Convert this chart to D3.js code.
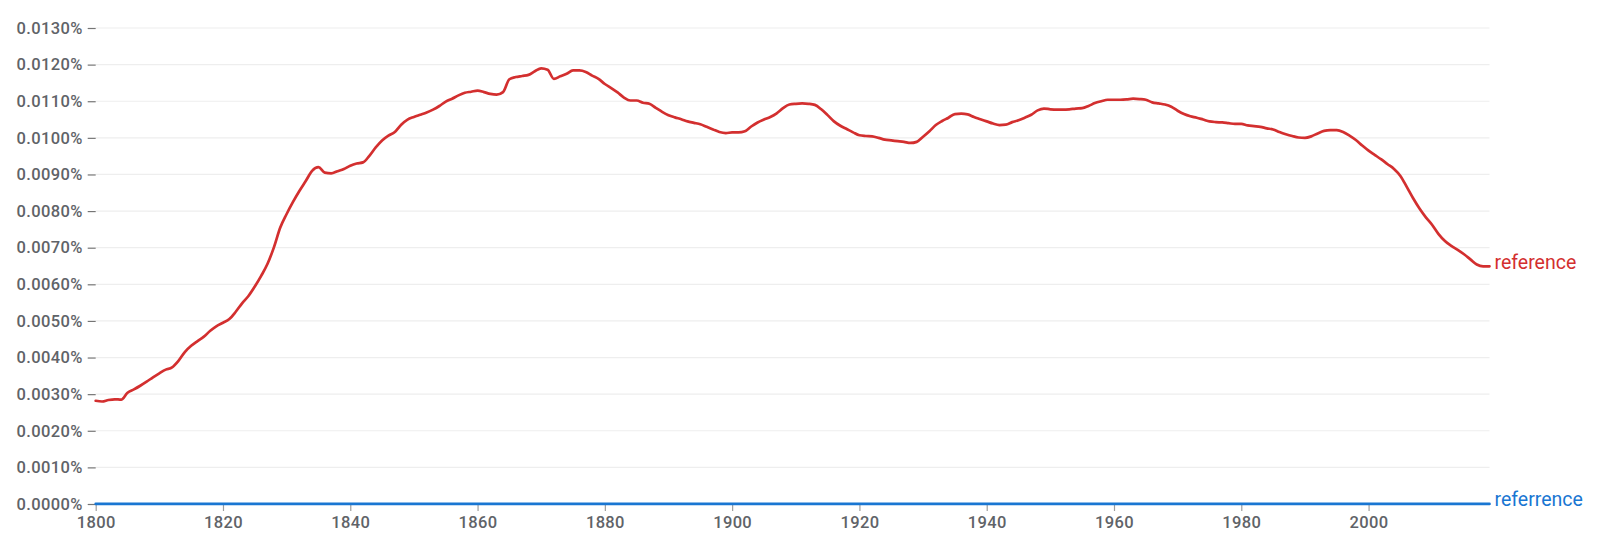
<!DOCTYPE html>
<html>
<head>
<meta charset="utf-8">
<script src="https://cdn.jsdelivr.net/npm/d3@7"></script>
<style>
  html, body { margin: 0; padding: 0; background: #ffffff; }
  svg { display: block; }
</style>
</head>
<body>
<svg id="chart" width="1600" height="544"></svg>
<script>
// ---- data -------------------------------------------------------------
const firstYear = 1800;
const lastYear = 2019;
const seriesNames = ["reference", "referrence"];
const yTicks = [0, 0.001, 0.002, 0.003, 0.004, 0.005, 0.006, 0.007, 0.008, 0.009, 0.010, 0.011, 0.012, 0.013];
const xTicks = [1800, 1820, 1840, 1860, 1880, 1900, 1920, 1940, 1960, 1980, 2000];

// percent values, 1800..2019
const referenceValues = [
  0.00282, 0.00280, 0.00284, 0.00286, 0.00285, 0.00304, 0.00313, 0.00323, 0.00334, 0.00346,
  0.00357, 0.00367, 0.00373, 0.00391, 0.00415, 0.00432, 0.00445, 0.00457, 0.00473, 0.00486,
  0.00495, 0.00505, 0.00525, 0.00548, 0.00568, 0.00594, 0.00623, 0.00656, 0.00701, 0.00755,
  0.00792, 0.00825, 0.00855, 0.00882, 0.00910, 0.00920, 0.00905, 0.00903, 0.00909, 0.00915,
  0.00924, 0.00930, 0.00933, 0.00951, 0.00974, 0.00993, 0.01006, 0.01016, 0.01036, 0.01050,
  0.01057, 0.01063, 0.01069, 0.01077, 0.01087, 0.01099, 0.01107, 0.01116, 0.01123, 0.01126,
  0.01129, 0.01125, 0.01120, 0.01118, 0.01125, 0.01160, 0.01166, 0.01169, 0.01172, 0.01182,
  0.01190, 0.01186, 0.01161, 0.01168, 0.01175, 0.01184, 0.01184, 0.01180, 0.01170, 0.01161,
  0.01147, 0.01136, 0.01124, 0.01110, 0.01102, 0.01102, 0.01096, 0.01093, 0.01082, 0.01071,
  0.01062, 0.01056, 0.01051, 0.01045, 0.01041, 0.01037, 0.01030, 0.01023, 0.01016, 0.01013,
  0.01015, 0.01015, 0.01018, 0.01031, 0.01042, 0.01050, 0.01057, 0.01067, 0.01081, 0.01091,
  0.01093, 0.01094, 0.01093, 0.01090, 0.01078, 0.01062, 0.01045, 0.01033, 0.01024, 0.01015,
  0.01007, 0.01005, 0.01004, 0.01000, 0.00995, 0.00993, 0.00991, 0.00989, 0.00986, 0.00989,
  0.01003, 0.01018, 0.01035, 0.01046, 0.01055, 0.01065, 0.01066, 0.01064, 0.01057, 0.01051,
  0.01045, 0.01039, 0.01035, 0.01036, 0.01043, 0.01048, 0.01055, 0.01063, 0.01075, 0.01080,
  0.01078, 0.01077, 0.01077, 0.01078, 0.01080, 0.01081, 0.01087, 0.01095, 0.01100, 0.01104,
  0.01104, 0.01104, 0.01105, 0.01107, 0.01106, 0.01104, 0.01097, 0.01094, 0.01091, 0.01085,
  0.01074, 0.01065, 0.01059, 0.01055, 0.01050, 0.01045, 0.01043, 0.01042, 0.01040, 0.01038,
  0.01038, 0.01034, 0.01032, 0.01030, 0.01026, 0.01023, 0.01016, 0.01010, 0.01005, 0.01001,
  0.01000, 0.01004, 0.01012, 0.01019, 0.01021, 0.01021, 0.01016, 0.01006, 0.00994, 0.00979,
  0.00965, 0.00953, 0.00941, 0.00928, 0.00915, 0.00896, 0.00866, 0.00835, 0.00807, 0.00783,
  0.00762, 0.00737, 0.00718, 0.00705, 0.00694, 0.00682, 0.00668, 0.00654, 0.00649, 0.00649
];

const referrenceValues = [
  0.0000010, 0.0000010, 0.0000011, 0.0000012, 0.0000012, 0.0000011, 0.0000010, 0.0000010, 0.0000011, 0.0000012,
  0.0000013, 0.0000013, 0.0000014, 0.0000015, 0.0000016, 0.0000018, 0.0000020, 0.0000023, 0.0000026, 0.0000030,
  0.0000032, 0.0000031, 0.0000028, 0.0000024, 0.0000020, 0.0000017, 0.0000015, 0.0000014, 0.0000013, 0.0000013,
  0.0000012, 0.0000012, 0.0000012, 0.0000013, 0.0000013, 0.0000012, 0.0000012, 0.0000011, 0.0000011, 0.0000011,
  0.0000012, 0.0000012, 0.0000013, 0.0000013, 0.0000012, 0.0000012, 0.0000012, 0.0000013, 0.0000013, 0.0000014,
  0.0000014, 0.0000013, 0.0000013, 0.0000013, 0.0000012, 0.0000012, 0.0000013, 0.0000013, 0.0000014, 0.0000014,
  0.0000014, 0.0000013, 0.0000013, 0.0000012, 0.0000012, 0.0000012, 0.0000013, 0.0000013, 0.0000013, 0.0000014,
  0.0000014, 0.0000014, 0.0000013, 0.0000013, 0.0000013, 0.0000012, 0.0000012, 0.0000012, 0.0000013, 0.0000013,
  0.0000013, 0.0000013, 0.0000012, 0.0000012, 0.0000012, 0.0000012, 0.0000012, 0.0000013, 0.0000013, 0.0000013,
  0.0000012, 0.0000012, 0.0000012, 0.0000011, 0.0000011, 0.0000011, 0.0000012, 0.0000012, 0.0000012, 0.0000012,
  0.0000012, 0.0000011, 0.0000011, 0.0000011, 0.0000011, 0.0000012, 0.0000012, 0.0000012, 0.0000011, 0.0000011,
  0.0000011, 0.0000011, 0.0000011, 0.0000010, 0.0000010, 0.0000010, 0.0000010, 0.0000010, 0.0000010, 0.0000010,
  0.0000010, 0.0000010, 0.0000010, 0.0000010, 0.0000010, 0.0000010, 0.0000010, 0.0000010, 0.0000010, 0.0000010,
  0.0000010, 0.0000010, 0.0000010, 0.0000010, 0.0000010, 0.0000010, 0.0000010, 0.0000010, 0.0000010, 0.0000010,
  0.0000010, 0.0000010, 0.0000010, 0.0000010, 0.0000010, 0.0000010, 0.0000010, 0.0000010, 0.0000010, 0.0000010,
  0.0000010, 0.0000010, 0.0000010, 0.0000010, 0.0000010, 0.0000010, 0.0000010, 0.0000010, 0.0000010, 0.0000010,
  0.0000010, 0.0000010, 0.0000010, 0.0000010, 0.0000010, 0.0000010, 0.0000010, 0.0000010, 0.0000010, 0.0000010,
  0.0000010, 0.0000010, 0.0000010, 0.0000010, 0.0000010, 0.0000010, 0.0000010, 0.0000010, 0.0000010, 0.0000010,
  0.0000010, 0.0000010, 0.0000010, 0.0000010, 0.0000010, 0.0000010, 0.0000010, 0.0000010, 0.0000010, 0.0000010,
  0.0000010, 0.0000010, 0.0000010, 0.0000010, 0.0000010, 0.0000010, 0.0000010, 0.0000010, 0.0000010, 0.0000010,
  0.0000010, 0.0000010, 0.0000010, 0.0000010, 0.0000010, 0.0000010, 0.0000010, 0.0000010, 0.0000010, 0.0000010,
  0.0000010, 0.0000010, 0.0000010, 0.0000010, 0.0000010, 0.0000010, 0.0000010, 0.0000010, 0.0000010, 0.0000010
];

const seriesColors = ["#d32f2f", "#1976d2"];

// ---- chart ------------------------------------------------------------
const years = d3.range(firstYear, lastYear + 1);
const series = [referenceValues, referrenceValues].map((vals, i) => ({
  name: seriesNames[i],
  color: seriesColors[i],
  points: years.map((yr, j) => ({ year: yr, value: vals[j] }))
}));

const svg = d3.select("#chart");
const plotLeft = 95.7, plotRight = 1489.5, plotTop = 28, plotBottom = 504;

const x = d3.scaleLinear().domain([firstYear, lastYear]).range([plotLeft, plotRight]);
const y = d3.scaleLinear().domain([0, 0.013]).range([plotBottom, plotTop]);

const font = "Roboto, 'Noto Sans', sans-serif";
const fmt = v => d3.format(".4f")(v) + "%";

// gridlines
svg.append("g")
  .selectAll("line")
  .data(yTicks.filter(d => d > 0))
  .join("line")
  .attr("x1", plotLeft).attr("x2", plotRight)
  .attr("y1", d => y(d)).attr("y2", d => y(d))
  .attr("stroke", "#eeeeee")
  .attr("stroke-width", 1.2);

// y axis
const yAxis = svg.append("g")
  .attr("transform", `translate(${plotLeft},0)`)
  .call(d3.axisLeft(y).tickValues(yTicks).tickFormat(fmt).tickSize(8).tickPadding(5));
yAxis.select(".domain").remove();
yAxis.selectAll(".tick line").attr("stroke", "#757575").attr("stroke-width", 1.2);
yAxis.selectAll(".tick text")
  .attr("fill", "#5f6368")
  .style("font-family", font)
  .style("font-size", "16.5px")
  .style("font-weight", "500")
  .style("letter-spacing", "0.35px");

// x axis
const xAxis = svg.append("g")
  .attr("transform", `translate(0,${plotBottom})`)
  .call(d3.axisBottom(x).tickValues(xTicks).tickFormat(d3.format("d")).tickSize(7).tickPadding(5));
xAxis.select(".domain").attr("stroke", "#9e9e9e").attr("stroke-width", 1.2)
  .attr("d", `M${plotLeft},0.5H${plotRight}`);
xAxis.selectAll(".tick line").attr("stroke", "#9e9e9e").attr("stroke-width", 1.2);
xAxis.selectAll(".tick text")
  .attr("fill", "#5f6368")
  .style("font-family", font)
  .style("font-size", "16.5px")
  .style("font-weight", "500")
  .style("letter-spacing", "0.35px");

// lines
const line = d3.line()
  .x(d => x(d.year))
  .y(d => y(d.value))
  .curve(d3.curveMonotoneX);

svg.append("g")
  .selectAll("path")
  .data(series.slice().reverse())
  .join("path")
  .attr("d", d => line(d.points))
  .attr("fill", "none")
  .attr("stroke", d => d.color)
  .attr("stroke-width", 2.7)
  .attr("stroke-linejoin", "round")
  .attr("stroke-linecap", "round");

// end labels
svg.append("g")
  .selectAll("text")
  .data(series)
  .join("text")
  .attr("x", plotRight + 5)
  .attr("y", d => y(d.points[d.points.length - 1].value) - 4)
  .attr("dy", "0.32em")
  .attr("fill", d => d.color)
  .style("font-family", font)
  .style("font-size", "19.5px")
  .text(d => d.name);
</script>
</body>
</html>
